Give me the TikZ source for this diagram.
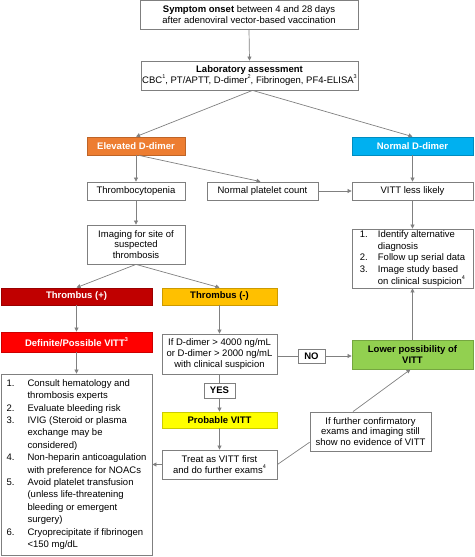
\documentclass[tikz,border=0pt]{standalone}
\usepackage{fontspec}
\setmainfont{Liberation Sans}
\usetikzlibrary{arrows.meta}
\definecolor{linegray}{HTML}{808080}
\definecolor{bordergray}{HTML}{7F7F7F}
\definecolor{corange}{HTML}{ED7D31}
\definecolor{cblue}{HTML}{00B0F0}
\definecolor{cdred}{HTML}{C00000}
\definecolor{cred}{HTML}{FF0000}
\definecolor{camber}{HTML}{FFC000}
\definecolor{cyellow}{HTML}{FFFF00}
\definecolor{cgreen}{HTML}{92D050}
\newcommand\sps[1]{\raisebox{0.9ex}{\fontsize{5.5}{5.5}\selectfont #1}}
\begin{document}
\begin{tikzpicture}[x=1pt,y=-1pt,
  every node/.style={font=\fontsize{9.5}{10.6}\selectfont},
  base/.style={line width=0.8pt, inner sep=0pt, align=center},
  wbox/.style={base, draw=bordergray, fill=white},
  hdr/.style={base, font=\fontsize{9.5}{10.6}\selectfont\bfseries},
  hcol/.style={hdr, fill=#1, draw=#1!80!black},
  conn/.style={draw=linegray, line width=0.7pt},
  arr/.style={conn, -{Triangle[length=4pt,width=4pt]}},
]
\useasboundingbox (0,0) rectangle (474,557);

% nodes
\node[wbox, minimum width=218, minimum height=28.5] (onset) at (249,14.75)
  {\textbf{Symptom onset} between 4 and 28 days\\after adenoviral vector-based vaccination};
\node[wbox, minimum width=217, minimum height=29] (lab) at (249.5,75.5)
  {\textbf{Laboratory assessment}\\CBC\sps{1}, PT/APTT, D-dimer\sps{2}, Fibrinogen, PF4-ELISA\sps{3}};
\node[hcol=corange, text=white, minimum width=98, minimum height=18] (elev) at (136,146) {Elevated D-dimer};
\node[hcol=cblue, text=white, minimum width=121, minimum height=18] (norm) at (412.5,146) {Normal D-dimer};
\node[wbox, minimum width=98, minimum height=18] (thr) at (136,191) {Thrombocytopenia};
\node[wbox, minimum width=111, minimum height=18] (npc) at (262.5,191) {Normal platelet count};
\node[wbox, minimum width=121, minimum height=18] (less) at (412.5,191) {VITT less likely};
\node[wbox, minimum width=98, minimum height=39] (img) at (136,244.5) {Imaging for site of\\suspected\\thrombosis};
\node[wbox, minimum width=121, minimum height=59] (alt) at (412.5,258.5)
  {\fontsize{9.5}{11.7}\selectfont\begin{tabular}{@{}p{18pt}@{}l@{}}
  1. & Identify alternative\\
     & diagnosis\\
  2. & Follow up serial data\\
  3. & Image study based\\
     & on clinical suspicion\sps{4}
  \end{tabular}};
\node[hcol=cdred, text=white, minimum width=151, minimum height=17] (tpos) at (76.5,296.5) {Thrombus (+)};
\node[hcol=camber, minimum width=115, minimum height=17] (tneg) at (219.5,296.5) {Thrombus (-)};
\node[hcol=cred, text=white, minimum width=151, minimum height=20] (def) at (76.5,342) {Definite/Possible VITT\sps{3}};
\node[wbox, minimum width=115, minimum height=40] (ifd) at (219.5,354)
  {If D-dimer > 4000 ng/mL\\or D-dimer > 2000 ng/mL\\with clinical suspicion};
\node[wbox, font=\fontsize{9.5}{10.6}\selectfont\bfseries, minimum width=27, minimum height=14] (no) at (311.5,356) {NO};
\node[hcol=cgreen, minimum width=121, minimum height=29] (lower) at (412.5,354.5) {Lower possibility of\\VITT};
\node[wbox, minimum width=151, minimum height=181] (list) at (76.5,464.5)
  {\fontsize{9.5}{12.4}\selectfont\begin{tabular}{@{}p{21pt}@{}l@{}}
  1. & Consult hematology and\\
     & thrombosis experts\\
  2. & Evaluate bleeding risk\\
  3. & IVIG (Steroid or plasma\\
     & exchange may be\\
     & considered)\\
  4. & Non-heparin anticoagulation\\
     & with preference for NOACs\\
  5. & Avoid platelet transfusion\\
     & (unless life-threatening\\
     & bleeding or emergent\\
     & surgery)\\
  6. & Cryoprecipitate if fibrinogen\\
     & <150 mg/dL
  \end{tabular}};
\node[wbox, font=\fontsize{9.5}{10.6}\selectfont\bfseries, minimum width=31, minimum height=15] (yes) at (219.5,390.5) {YES};
\node[hcol=cyellow, minimum width=115, minimum height=16] (prob) at (219.5,420) {Probable VITT};
\node[wbox, minimum width=121, minimum height=39] (further) at (370.5,431.5)
  {If further confirmatory\\exams and imaging still\\show no evidence of VITT};
\node[wbox, minimum width=115, minimum height=29] (treat) at (219.5,464.5)
  {Treat as VITT first\\and do further exams\sps{4}};

% connectors
\draw[arr] (onset.south) -- (lab.south |- lab.north);
\coordinate (labout) at ([xshift=3pt]lab.south);
\draw[arr] (labout) -- (elev.north);
\draw[arr] (labout) -- (norm.north);
\draw[arr] (elev.south) -- (thr.north);
\draw[arr] ([xshift=3pt]elev.south) -- ([xshift=-2pt]npc.north);
\draw[arr] (npc.east) -- (npc.east -| less.west);
\draw[arr] (norm.south) -- (less.north);
\draw[arr] (thr.south) -- (img.north);
\draw[arr] (img.south) -- (tpos.north);
\draw[arr] (img.south) -- (tneg.north);
\draw[arr] (less.south) -- (alt.north);
\draw[arr] (lower.north) -- (alt.south);
\draw[arr] (tpos.south) -- (def.north);
\draw[arr] (tneg.south) -- (ifd.north);
\draw[conn] (no.west -| ifd.east) -- (no.west);
\draw[arr] (no.east) -- (no.east -| lower.west);
\draw[arr] (def.south) -- (list.north);
\draw[conn] (ifd.south) -- (yes.north);
\draw[arr] (yes.south) -- (prob.north);
\draw[arr] (prob.south) -- (treat.north);
\draw[arr] (treat.west) -- (treat.west -| list.east);
\draw[conn] (treat.east) -- (further.190);
\draw[arr] ([xshift=-17.5pt]further.north) -- ([xshift=-2pt]lower.south);
\end{tikzpicture}
\end{document}
